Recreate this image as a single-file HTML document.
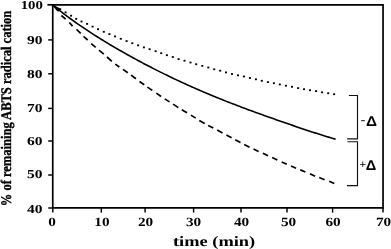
<!DOCTYPE html>
<html><head><meta charset="utf-8"><style>
html,body{margin:0;padding:0;background:#fff;width:391px;height:249px;overflow:hidden}
svg{display:block}
text{text-rendering:geometricPrecision}
</style></head><body>
<svg width="391" height="249" viewBox="0 0 391 249">
<rect width="391" height="249" fill="#fff"/>
<g stroke="#000" stroke-width="1.7" fill="none" stroke-linecap="square">
<path d="M52.75 4.8 H383.05 V207.9 H52.75 Z"/>
<path d="M47.4 4.8 H52.75" stroke-linecap="butt"/>
</g>
<g stroke="#000" stroke-width="1.45" fill="none">
<path d="M48.2 39.9 H52.75"/>
<path d="M48.2 73.8 H52.75"/>
<path d="M48.2 108.4 H52.75"/>
<path d="M48.2 141.0 H52.75"/>
<path d="M48.2 175.0 H52.75"/>
<path d="M48.2 208.0 H52.75"/>
<path d="M52.8 207.9 V212.6"/>
<path d="M101.3 207.9 V212.6"/>
<path d="M145.1 207.9 V212.6"/>
<path d="M193.6 207.9 V212.6"/>
<path d="M241.0 207.9 V212.6"/>
<path d="M287.0 207.9 V212.6"/>
<path d="M332.6 207.9 V212.6"/>
<path d="M383.0 207.9 V212.6"/>
</g>
<path d="M52.8 4.9 L54.00 5.90 L55.50 7.14 L57.00 8.36 L58.50 9.57 L60.00 10.77 L61.50 11.94 L63.00 13.11 L64.50 14.26 L66.00 15.40 L67.50 16.52 L69.00 17.64 L70.50 18.74 L72.00 19.83 L73.50 20.91 L75.00 21.98 L76.50 23.04 L78.00 24.09 L79.50 25.13 L81.00 26.16 L82.50 27.18 L84.00 28.20 L85.50 29.20 L87.00 30.20 L88.50 31.19 L90.00 32.17 L91.50 33.14 L93.00 34.11 L94.50 35.07 L96.00 36.02 L97.50 36.97 L99.00 37.91 L100.50 38.84 L102.00 39.77 L103.50 40.69 L105.00 41.61 L106.50 42.52 L108.00 43.42 L109.50 44.32 L111.00 45.21 L112.50 46.10 L114.00 46.98 L115.50 47.86 L117.00 48.73 L118.50 49.60 L120.00 50.47 L121.50 51.32 L123.00 52.18 L124.50 53.03 L126.00 53.87 L127.50 54.71 L129.00 55.55 L130.50 56.38 L132.00 57.21 L133.50 58.03 L135.00 58.85 L136.50 59.66 L138.00 60.47 L139.50 61.28 L141.00 62.08 L142.50 62.87 L144.00 63.67 L145.50 64.46 L147.00 65.24 L148.50 66.02 L150.00 66.80 L151.50 67.57 L153.00 68.34 L154.50 69.11 L156.00 69.87 L157.50 70.62 L159.00 71.38 L160.50 72.13 L162.00 72.87 L163.50 73.61 L165.00 74.35 L166.50 75.08 L168.00 75.81 L169.50 76.54 L171.00 77.26 L172.50 77.98 L174.00 78.69 L175.50 79.40 L177.00 80.11 L178.50 80.81 L180.00 81.51 L181.50 82.20 L183.00 82.89 L184.50 83.58 L186.00 84.26 L187.50 84.94 L189.00 85.62 L190.50 86.29 L192.00 86.96 L193.50 87.62 L195.00 88.28 L196.50 88.94 L198.00 89.59 L199.50 90.24 L201.00 90.89 L202.50 91.53 L204.00 92.17 L205.50 92.81 L207.00 93.44 L208.50 94.07 L210.00 94.69 L211.50 95.32 L213.00 95.94 L214.50 96.55 L216.00 97.16 L217.50 97.77 L219.00 98.38 L220.50 98.98 L222.00 99.58 L223.50 100.18 L225.00 100.78 L226.50 101.37 L228.00 101.96 L229.50 102.54 L231.00 103.13 L232.50 103.71 L234.00 104.29 L235.50 104.86 L237.00 105.44 L238.50 106.01 L240.00 106.58 L241.50 107.14 L243.00 107.71 L244.50 108.27 L246.00 108.83 L247.50 109.38 L249.00 109.94 L250.50 110.49 L252.00 111.05 L253.50 111.59 L255.00 112.14 L256.50 112.69 L258.00 113.23 L259.50 113.78 L261.00 114.32 L262.50 114.86 L264.00 115.39 L265.50 115.93 L267.00 116.47 L268.50 117.00 L270.00 117.53 L271.50 118.06 L273.00 118.59 L274.50 119.12 L276.00 119.65 L277.50 120.17 L279.00 120.70 L280.50 121.22 L282.00 121.74 L283.50 122.27 L285.00 122.79 L286.50 123.30 L288.00 123.82 L289.50 124.34 L291.00 124.85 L292.50 125.37 L294.00 125.88 L295.50 126.39 L297.00 126.90 L298.50 127.41 L300.00 127.91 L301.50 128.42 L303.00 128.92 L304.50 129.42 L306.00 129.92 L307.50 130.42 L309.00 130.92 L310.50 131.41 L312.00 131.90 L313.50 132.39 L315.00 132.88 L316.50 133.36 L318.00 133.84 L319.50 134.32 L321.00 134.79 L322.50 135.27 L324.00 135.73 L325.50 136.20 L327.00 136.66 L328.50 137.11 L330.00 137.56 L331.50 138.01 L333.00 138.45 L334.50 138.88 L335.60 139.20" stroke="#000" stroke-width="1.6" fill="none" stroke-linejoin="round"/>
<g stroke="#000" stroke-width="1.7" fill="none">
<path d="M61.4 15.5 L65.6 19.1"/>
<path d="M69.3 22.5 L72.6 26.1"/>
<path d="M76.5 29.4 L80.7 33.3"/>
<path d="M83.5 36.4 L87.7 40.0"/>
<path d="M91.2 43.7 L95.7 47.3"/>
<path d="M99.0 50.1 L103.8 54.1"/>
<path d="M107.0 57.0 L111.8 61.3"/>
<path d="M115.3 64.1 L119.4 67.0"/>
<path d="M123.0 69.4 L127.8 72.7"/>
<path d="M131.1 75.1 L135.9 78.7"/>
<path d="M139.5 81.5 L144.3 84.7"/>
<path d="M147.4 87.1 L152.3 90.4"/>
<path d="M156.3 93.1 L161.1 96.5"/>
<path d="M164.7 98.9 L169.5 101.9"/>
<path d="M173.1 104.1 L178.3 107.6"/>
<path d="M181.8 109.7 L187.0 112.7"/>
<path d="M190.9 115.1 L195.7 118.1"/>
<path d="M199.3 120.5 L204.7 123.5"/>
<path d="M208.2 125.4 L213.2 128.1"/>
<path d="M217.2 130.0 L222.5 133.0"/>
<path d="M226.4 134.9 L231.6 137.7"/>
<path d="M235.2 139.8 L240.5 142.5"/>
<path d="M244.2 144.5 L249.5 147.2"/>
<path d="M253.5 148.9 L258.6 151.4"/>
<path d="M262.9 153.2 L268.0 155.8"/>
<path d="M272.2 157.4 L277.3 160.0"/>
<path d="M281.7 161.9 L286.8 164.2"/>
<path d="M291.0 166.0 L296.1 168.3"/>
<path d="M300.3 169.9 L305.4 172.0"/>
<path d="M310.0 173.7 L315.1 176.3"/>
<path d="M319.2 177.5 L324.6 179.7"/>
<path d="M329.2 181.2 L334.3 183.5"/>
</g>
<g fill="#000">
<rect x="59.20" y="8.30" width="2.0" height="1.8"/>
<rect x="64.60" y="11.50" width="2.0" height="1.8"/>
<rect x="70.10" y="14.80" width="2.0" height="1.8"/>
<rect x="75.20" y="17.90" width="2.0" height="1.8"/>
<rect x="80.50" y="20.60" width="2.0" height="1.8"/>
<rect x="86.10" y="23.00" width="2.0" height="1.8"/>
<rect x="91.60" y="25.70" width="2.0" height="1.8"/>
<rect x="97.00" y="28.30" width="2.0" height="1.8"/>
<rect x="102.80" y="30.90" width="2.0" height="1.8"/>
<rect x="108.40" y="33.20" width="2.0" height="1.8"/>
<rect x="114.00" y="35.50" width="2.0" height="1.8"/>
<rect x="119.80" y="37.90" width="2.0" height="1.8"/>
<rect x="125.60" y="40.20" width="2.0" height="1.8"/>
<rect x="131.30" y="42.30" width="2.0" height="1.8"/>
<rect x="137.10" y="44.40" width="2.0" height="1.8"/>
<rect x="142.90" y="46.50" width="2.0" height="1.8"/>
<rect x="148.60" y="48.30" width="2.0" height="1.8"/>
<rect x="154.60" y="50.30" width="2.0" height="1.8"/>
<rect x="160.20" y="52.30" width="2.0" height="1.8"/>
<rect x="165.90" y="54.30" width="2.0" height="1.8"/>
<rect x="171.80" y="56.10" width="2.0" height="1.8"/>
<rect x="177.60" y="58.20" width="2.0" height="1.8"/>
<rect x="183.50" y="59.80" width="2.0" height="1.8"/>
<rect x="189.50" y="61.60" width="2.0" height="1.8"/>
<rect x="195.20" y="63.30" width="2.0" height="1.8"/>
<rect x="201.30" y="65.00" width="2.0" height="1.8"/>
<rect x="207.30" y="66.60" width="2.0" height="1.8"/>
<rect x="213.20" y="68.40" width="2.0" height="1.8"/>
<rect x="219.20" y="69.80" width="2.0" height="1.8"/>
<rect x="225.00" y="71.50" width="2.0" height="1.8"/>
<rect x="231.00" y="73.10" width="2.0" height="1.8"/>
<rect x="237.00" y="74.40" width="2.0" height="1.8"/>
<rect x="242.90" y="75.60" width="2.0" height="1.8"/>
<rect x="248.90" y="77.10" width="2.0" height="1.8"/>
<rect x="254.90" y="78.40" width="2.0" height="1.8"/>
<rect x="260.80" y="79.90" width="2.0" height="1.8"/>
<rect x="266.90" y="81.20" width="2.0" height="1.8"/>
<rect x="272.90" y="82.30" width="2.0" height="1.8"/>
<rect x="278.80" y="83.50" width="2.0" height="1.8"/>
<rect x="284.90" y="84.80" width="2.0" height="1.8"/>
<rect x="291.00" y="85.90" width="2.0" height="1.8"/>
<rect x="297.10" y="87.20" width="2.0" height="1.8"/>
<rect x="303.00" y="88.30" width="2.0" height="1.8"/>
<rect x="309.00" y="89.30" width="2.0" height="1.8"/>
<rect x="315.10" y="90.20" width="2.0" height="1.8"/>
<rect x="321.10" y="91.40" width="2.0" height="1.8"/>
<rect x="327.20" y="92.30" width="2.0" height="1.8"/>
<rect x="333.10" y="93.30" width="2.0" height="1.8"/>
</g>
<path d="M53.3 5.0 L60.3 8.5 L60.6 9.7 L58.9 11.4 L57.2 11.3 L53.3 6.4 Z" fill="#000"/>
<g stroke="#111" stroke-width="1.15" fill="none">
<path d="M348.9 95.45 H357.5 V138.9 H347.1"/>
<path d="M347.5 141.7 H357.5 V185.6 H346.9"/>
</g>
<g font-family="Liberation Serif, serif" font-weight="bold" font-size="12.1" fill="#000" stroke="none" stroke-width="0.3">
<text transform="translate(42.9 8.8) scale(1.225 1)" text-anchor="end">100</text>
<text transform="translate(42.4 43.55) scale(1.28 1)" text-anchor="end">90</text>
<text transform="translate(42.4 78.35) scale(1.28 1)" text-anchor="end">80</text>
<text transform="translate(42.4 111.55) scale(1.28 1)" text-anchor="end">70</text>
<text transform="translate(42.4 144.75) scale(1.28 1)" text-anchor="end">60</text>
<text transform="translate(42.4 178.35) scale(1.28 1)" text-anchor="end">50</text>
<text transform="translate(42.4 212.5) scale(1.28 1)" text-anchor="end">40</text>
<text transform="translate(52.1 226.3) scale(1.21 1)" text-anchor="middle" font-size="12.6">0</text>
<text transform="translate(101.9 226.2) scale(1.21 1)" text-anchor="middle" font-size="12.6">10</text>
<text transform="translate(145.5 226.0) scale(1.21 1)" text-anchor="middle" font-size="12.6">20</text>
<text transform="translate(193.5 225.8) scale(1.21 1)" text-anchor="middle" font-size="12.6">30</text>
<text transform="translate(241.6 225.5) scale(1.21 1)" text-anchor="middle" font-size="12.6">40</text>
<text transform="translate(288.5 225.5) scale(1.21 1)" text-anchor="middle" font-size="12.6">50</text>
<text transform="translate(333.1 225.5) scale(1.21 1)" text-anchor="middle" font-size="12.6">60</text>
<text transform="translate(383.5 225.5) scale(1.21 1)" text-anchor="middle" font-size="12.6">70</text>
</g>
<text transform="translate(214.1 245.6) scale(1.278 1)" text-anchor="middle" font-family="Liberation Serif, serif" font-weight="bold" font-size="14.4">time (min)</text>
<text transform="translate(10.6 108.5) rotate(-90) scale(1 1.17)" text-anchor="middle" font-family="Liberation Serif, serif" font-weight="bold" font-size="12.53" stroke="#000" stroke-width="0.3">% of remaining ABTS radical cation</text>
<text transform="translate(360.6 124.1) scale(1.2 1)" font-family="Liberation Sans, sans-serif" font-size="12.5">-</text>
<text transform="translate(365.9 125.9) scale(1.07 1)" font-family="Liberation Sans, sans-serif" font-weight="bold" font-size="14.3">&#916;</text>
<text x="359.4" y="168.2" font-family="Liberation Sans, sans-serif" font-size="11.2">+</text>
<text transform="translate(365.8 170.2) scale(1.02 1)" font-family="Liberation Sans, sans-serif" font-weight="bold" font-size="14.3">&#916;</text>
</svg>
</body></html>
